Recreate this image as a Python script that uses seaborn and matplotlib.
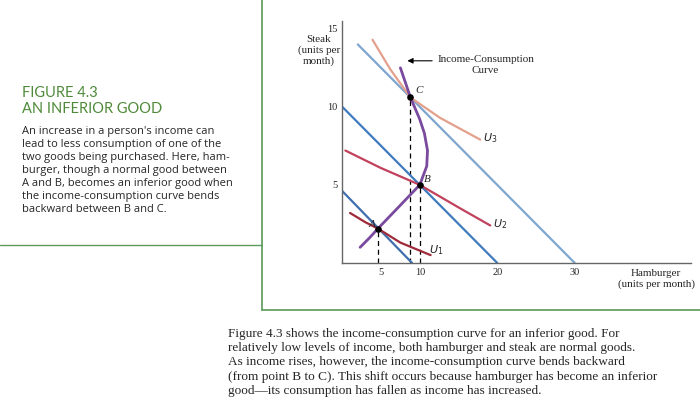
import numpy as np
import pandas as pd
import seaborn as sns
import matplotlib.pyplot as plt

sns.set_style("white")
plt.rcParams['font.family'] = ['Liberation Serif', 'DejaVu Serif']

# budget lines (hamburger, steak)
b1_x = [0, 9]; b1_y = [4.6, 0]
b2_x = [0, 20]; b2_y = [10, 0]
b3_x = [2, 30]; b3_y = [14, 0]
# indifference curves
u1_x = [1.0, 3.0, 4.6, 7.5, 11.4]; u1_y = [3.2, 2.6, 2.2, 1.3, 0.5]
u2_x = [0.4, 4.9, 10, 15.2, 19.1]; u2_y = [7.2, 6.1, 5.0, 3.5, 2.4]
u3_x = [3.9, 6.2, 8.8, 12.6, 17.8]; u3_y = [14.3, 12.4, 10.6, 9.3, 7.9]
# income-consumption curve
icc_x = [2.3, 3.5, 4.6, 7.5, 10.0, 10.9, 11.0, 10.6, 10.0, 8.8, 7.5]
icc_y = [1.0, 1.6, 2.2, 3.7, 5.0, 6.2, 7.2, 8.3, 9.2, 10.6, 12.5]
pts_lab = ["A", "B", "C"]; pts_x = [4.6, 10.0, 8.8]; pts_y = [2.2, 5.0, 10.6]
xticks = [5, 10, 20, 30]; yticks = [5, 10, 15]

fig = plt.figure(figsize=(7, 4.2), dpi=100)
ax = fig.add_axes([0.489, 0.374, 0.498, 0.576])

def curve(x, y, c, lw=1.6):
    d = pd.DataFrame({"x": x, "y": y})
    sns.lineplot(data=d, x="x", y="y", ax=ax, color=c, lw=lw, sort=False,
                 estimator=None, errorbar=None)

for x, y in zip(pts_x, pts_y):
    ax.plot([x, x], [0, y], ls=(0, (4, 3)), color="black", lw=0.9)
curve(b1_x, b1_y, "#3f6fae")
curve(b2_x, b2_y, "#3f7bbd")
curve(b3_x, b3_y, "#7fa6cf")
curve(u1_x, u1_y, "#9e2a3a")
curve(u2_x, u2_y, "#c2415c")
curve(u3_x, u3_y, "#e3a08c")
curve(icc_x, icc_y, "#7a4a9e", 2)
ax.scatter(pts_x, pts_y, color="black", s=14, zorder=5)
offs = [(-1.2, 0.1), (0.5, 0.2), (0.6, 0.3)]
for l, x, y, o in zip(pts_lab, pts_x, pts_y, offs):
    ax.text(x + o[0], y + o[1], l, style="italic", fontsize=8)
ax.text(11.2, 0.6, "$U_1$", fontsize=8)
ax.text(19.5, 2.3, "$U_2$", fontsize=8)
ax.text(18.2, 7.8, "$U_3$", fontsize=8)
ax.annotate("", xy=(8.4, 12.95), xytext=(11.6, 12.95),
            arrowprops=dict(arrowstyle="-|>", lw=0.8, color="black",
                            shrinkA=0, shrinkB=0, mutation_scale=8))
ax.text(18.5, 12.2, "Income-Consumption\nCurve", fontsize=8, ha="center")
ax.text(-3.0, 14.6, "Steak\n(units per\nmonth)", fontsize=8, ha="center", va="top",
        clip_on=False)
ax.text(40.5, -1.5, "Hamburger\n(units per month)", fontsize=8, ha="center")
ax.set_xlim(0, 45); ax.set_ylim(0, 15.5)
ax.set_xticks(xticks); ax.set_yticks(yticks)
ax.tick_params(labelsize=7.5, length=0)
ax.set_xlabel(""); ax.set_ylabel("")
sns.despine(ax=ax)
for s in ["left", "bottom"]:
    ax.spines[s].set_color("#666666"); ax.spines[s].set_linewidth(1)

green = "#5a9a5a"
fig.add_artist(plt.Line2D([262/700, 262/700], [1, 1-310/420], color=green, lw=1.2))
fig.add_artist(plt.Line2D([262/700, 1], [1-310/420]*2, color=green, lw=1.2))
fig.add_artist(plt.Line2D([0, 262/700], [1-245/420]*2, color=green, lw=1))
fig.text(22/700, 1-86/420, "FIGURE 4.3\nAN INFERIOR GOOD", color="#4f8a3a",
         fontsize=10.5, family=["Lato"], va="top", linespacing=1.2)
fig.text(22/700, 1-126/420,
         "An increase in a person's income can\nlead to less consumption of one of the\n"
         "two goods being purchased. Here, ham-\nburger, though a normal good between\n"
         "A and B, becomes an inferior good when\nthe income-consumption curve bends\n"
         "backward between B and C.",
         fontsize=8, family=["Open Sans"], va="top", linespacing=1.25)
fig.text(228/700, 1-328/420,
         "Figure 4.3 shows the income-consumption curve for an inferior good. For\n"
         "relatively low levels of income, both hamburger and steak are normal goods.\n"
         "As income rises, however, the income-consumption curve bends backward\n"
         "(from point B to C). This shift occurs because hamburger has become an inferior\n"
         "good—its consumption has fallen as income has increased.",
         fontsize=9.5, va="top", linespacing=1.25)
fig.savefig("out.png", dpi=100)
